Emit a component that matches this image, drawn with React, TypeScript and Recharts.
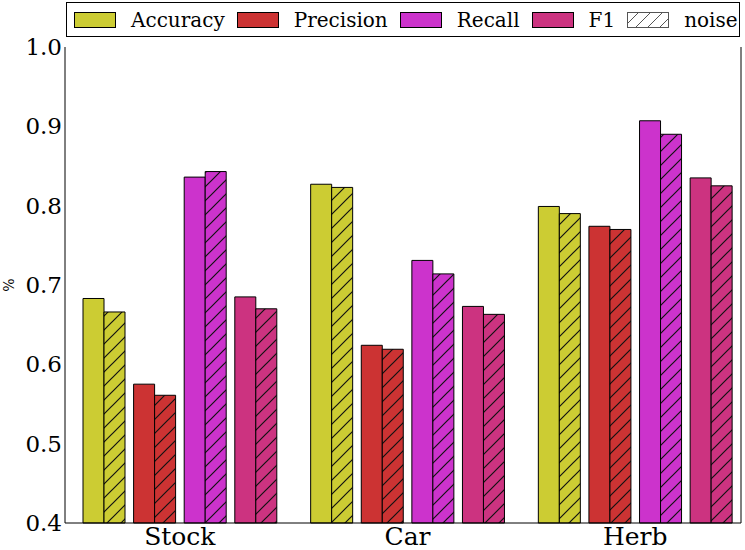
import { BarChart, Bar, XAxis, YAxis } from "recharts";

const categories = ["Stock", "Car", "Herb"];
const metrics = ["Accuracy", "Precision", "Recall", "F1"];
const colors = ["#cccc33", "#cc3333", "#cc33cc", "#cc3380"];

const accuracy = [0.683, 0.827, 0.799];
const accuracyNoise = [0.666, 0.823, 0.79];
const precision = [0.575, 0.624, 0.774];
const precisionNoise = [0.561, 0.619, 0.77];
const recall = [0.836, 0.731, 0.907];
const recallNoise = [0.843, 0.714, 0.89];
const f1 = [0.685, 0.673, 0.835];
const f1Noise = [0.67, 0.663, 0.825];

const yTicks = [0.4, 0.5, 0.6, 0.7, 0.8, 0.9, 1.0];

const clean = [accuracy, precision, recall, f1];
const noisy = [accuracyNoise, precisionNoise, recallNoise, f1Noise];

const data = categories.map((name, i) => {
  const row: Record<string, string | number> = { name };
  clean.forEach((s, k) => (row[`v${k}`] = s[i]));
  noisy.forEach((s, k) => (row[`n${k}`] = s[i]));
  return row;
});

// each metric pair sits on its own hidden category axis, shifted so pairs are 8px apart
const pairPad = [
  { left: -75, right: 68 },
  { left: -24.4, right: 17.4 },
  { left: 26.2, right: -33.2 },
  { left: 76.8, right: -83.8 },
];

const serif = "'DejaVu Serif', serif";
const emptyTick = () => <g />;
const H = 14; // hatch spacing
const hatchPath = `M-3,3 l6,-6 M0,${H} l${H},-${H} M${H - 3},${H + 3} l6,-6`;

const Swatch = ({ color, hatch }: { color: string; hatch?: boolean }) => (
  <svg width={42} height={16} style={{ display: "block" }}>
    <defs>
      <pattern id="legend-hatch" patternUnits="userSpaceOnUse" width={12} height={12}>
        <rect width={12} height={12} fill="#fff" />
        <path d="M-3,3 l6,-6 M0,12 l12,-12 M9,15 l6,-6" stroke="#555" strokeWidth={1} />
      </pattern>
    </defs>
    <rect
      x={0.5}
      y={0.5}
      width={41}
      height={15}
      fill={hatch ? "url(#legend-hatch)" : color}
      stroke={hatch ? "#555" : "#000"}
      strokeWidth={1}
    />
  </svg>
);

export default function App() {
  return (
    <div style={{ position: "absolute", left: 0, top: 0, width: 745, height: 550, background: "#fff" }}>
      <BarChart
        width={745}
        height={550}
        data={data}
        margin={{ top: 47, right: 4, bottom: 0, left: 0 }}
        barGap={0}
      >
        <defs>
          {colors.map((c, k) => (
            <pattern key={k} id={`hatch${k}`} patternUnits="userSpaceOnUse" width={H} height={H}>
              <rect width={H} height={H} fill={c} />
              <path d={hatchPath} stroke="#111" strokeWidth={1.2} />
            </pattern>
          ))}
        </defs>
        <XAxis
          dataKey="name"
          height={27}
          padding={{ left: 1, right: -8 }}
          axisLine={{ stroke: "#000" }}
          tickLine={false}
          tickSize={0}
          tickMargin={4}
          interval={0}
          tick={{ fill: "#000", fontSize: 25, fontFamily: serif }}
        />
        <XAxis
          xAxisId="top"
          dataKey="name"
          orientation="top"
          height={0}
          axisLine={{ stroke: "#000" }}
          tickLine={false}
          tick={emptyTick}
        />
        {pairPad.map((p, k) => (
          <XAxis key={k} xAxisId={`m${k}`} dataKey="name" hide padding={p} />
        ))}
        <YAxis
          type="number"
          domain={[0.4, 1.0]}
          ticks={yTicks}
          width={65}
          axisLine={{ stroke: "#000" }}
          tickLine={false}
          tickSize={0}
          tickMargin={3}
          tickFormatter={(v: number) => v.toFixed(1)}
          tick={{ fill: "#000", fontSize: 23, fontFamily: serif }}
          label={{
            value: "%",
            angle: -90,
            position: "insideLeft",
            offset: 9,
            style: { textAnchor: "middle", fontSize: 14, fontFamily: serif, fill: "#000" },
          }}
        />
        <YAxis
          yAxisId="tl"
          type="number"
          orientation="left"
          mirror
          domain={[0.4, 1.0]}
          ticks={yTicks}
          axisLine={false}
          tickLine={{ stroke: "#000" }}
          tickSize={6}
          tick={emptyTick}
        />
        <YAxis
          yAxisId="tr"
          type="number"
          orientation="right"
          mirror
          domain={[0.4, 1.0]}
          ticks={yTicks}
          axisLine={{ stroke: "#000" }}
          tickLine={{ stroke: "#000" }}
          tickSize={6}
          tick={emptyTick}
        />
        {metrics.map((m, k) => [
          <Bar
            key={`v${k}`}
            name={m}
            xAxisId={`m${k}`}
            dataKey={`v${k}`}
            fill={colors[k]}
            stroke="#000"
            strokeWidth={1}
            barSize={21}
            isAnimationActive={false}
          />,
          <Bar
            key={`n${k}`}
            name={`${m} noise`}
            xAxisId={`m${k}`}
            dataKey={`n${k}`}
            fill={`url(#hatch${k})`}
            stroke="#000"
            strokeWidth={1}
            barSize={21}
            isAnimationActive={false}
          />,
        ])}
      </BarChart>
      <div
        style={{
          position: "absolute",
          left: 66,
          top: 2,
          width: 674,
          height: 35,
          boxSizing: "border-box",
          border: "1px solid #000",
          display: "flex",
          alignItems: "center",
          paddingLeft: 7,
          fontFamily: serif,
          fontSize: 20,
          color: "#000",
          background: "#fff",
        }}
      >
        {metrics.map((m, k) => (
          <div key={m} style={{ display: "flex", alignItems: "center", marginRight: 12 }}>
            <Swatch color={colors[k]} />
            <span style={{ marginLeft: 15 }}>{m}</span>
          </div>
        ))}
        <div style={{ display: "flex", alignItems: "center" }}>
          <Swatch color="#fff" hatch />
          <span style={{ marginLeft: 15 }}>noise</span>
        </div>
      </div>
    </div>
  );
}
